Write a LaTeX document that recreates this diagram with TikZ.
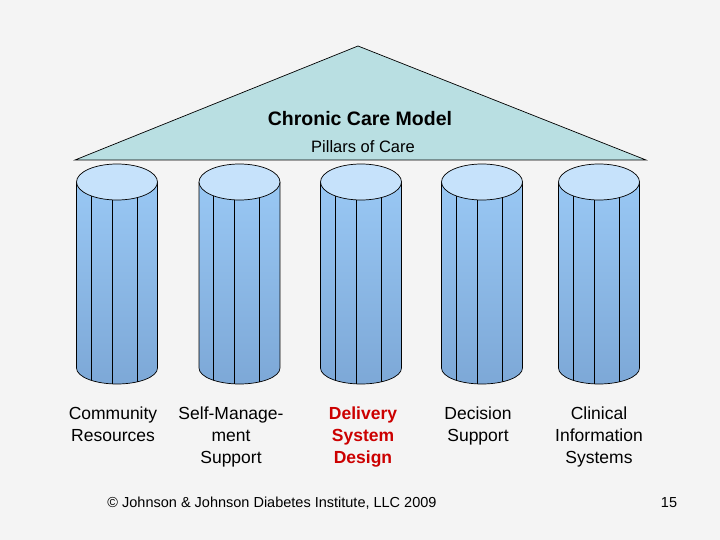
\documentclass[tikz,border=0pt]{standalone}
\usepackage{fontspec}
\setmainfont{Liberation Sans}
\begin{document}
\begin{tikzpicture}[x=1pt,y=-1pt,
  lbl/.style={font=\fontsize{17.5}{22}\selectfont,align=center,anchor=north},
  pil/.style={draw=black,line width=0.7pt}]
\definecolor{bg}{HTML}{F4F4F4}
\definecolor{roof}{HTML}{B9DFE2}
\definecolor{ptop}{HTML}{C6E2FB}
\definecolor{pup}{HTML}{9CCBF7}
\definecolor{plow}{HTML}{7CA7D6}
\definecolor{red}{HTML}{CC0000}
\fill[bg] (0,0) rectangle (720,540);
\useasboundingbox (0,0) rectangle (720,540);
\draw[fill=roof,line width=0.7pt] (75,160) -- (358,46) -- (646,160) -- cycle;
\node[font=\bfseries\fontsize{19.5}{22}\selectfont] (title) at (360,119) {Chronic Care Model};
\node[font=\fontsize{16.5}{20}\selectfont] (sub) at (363,147) {Pillars of Care};
\foreach \c/\n in {117/a,239.5/b,361/c,482/d,599/e}{
  \begin{scope}
    \clip (\c-40.5,182) -- (\c-40.5,368) arc[start angle=180,end angle=360,x radius=40.5,y radius=-16] -- (\c+40.5,182) -- cycle;
    \shade[top color=pup,bottom color=plow] (\c-41,160) rectangle (\c+41,390);
    \foreach \o in {-26,-5,20}{\draw[line width=0.7pt] (\c+\o,182) -- (\c+\o,390);}
  \end{scope}
  \draw[pil] (\c-40.5,182) -- (\c-40.5,368) arc[start angle=180,end angle=360,x radius=40.5,y radius=-16] -- (\c+40.5,182);
  \draw[pil,fill=ptop] (\c,182) ellipse[x radius=40.5,y radius=18];
}
\node[lbl] (l1) at (113,403) {Community\\Resources};
\node[lbl] (l2) at (231,403) {Self-Manage-\\ment\\Support};
\node[lbl,text=red,font=\bfseries\fontsize{17.5}{22}\selectfont] (l3) at (363,403) {Delivery\\System\\Design};
\node[lbl] (l4) at (478,403) {Decision\\Support};
\node[lbl] (l5) at (599,403) {Clinical\\Information\\Systems};
\node[font=\fontsize{14.5}{17}\selectfont] (copy) at (272,503) {© Johnson \& Johnson Diabetes Institute, LLC 2009};
\node[font=\fontsize{14.5}{17}\selectfont] (pg) at (669,503) {15};
\end{tikzpicture}
\end{document}
